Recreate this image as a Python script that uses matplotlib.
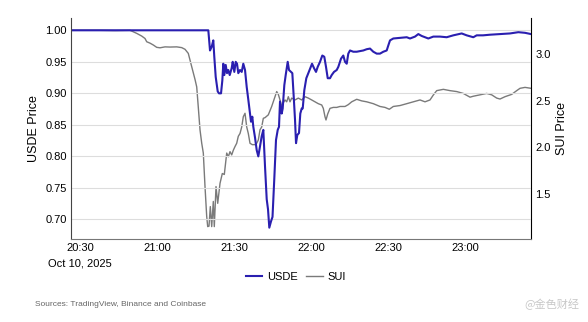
import pandas as pd
import matplotlib
matplotlib.use("Agg")
import matplotlib.pyplot as plt

plt.rcParams['font.family'] = ['Liberation Sans Narrow', 'Liberation Sans', 'DejaVu Sans']

# minutes after 20:30 on Oct 10, 2025
usde_min = [-3.51, 49.99, 50.65, 51.31, 51.93, 52.32, 52.87, 53.65, 54.16, 54.94,
            55.44, 55.83, 56.22, 56.77, 57.27, 57.78, 58.33, 59.10, 59.49, 60.12,
            60.66, 61.17, 61.67, 62.34, 63.00, 63.62, 64.29, 64.95, 65.57, 66.23,
            66.62, 67.13, 67.52, 68.18, 68.84, 69.47, 70.13, 70.79, 71.42, 72.08,
            72.74, 73.25, 73.75, 74.42, 75.00, 75.70, 76.36, 77.03, 77.53, 77.92,
            78.58, 78.97, 79.60, 80.14, 80.92, 81.43, 82.21, 82.72, 83.26, 83.77,
            84.16, 84.66, 85.32, 85.83, 86.38, 86.77, 87.39, 88.17, 88.95, 89.73,
            90.39, 91.17, 91.95, 92.61, 93.51, 94.40, 95.18, 95.84, 96.51, 97.40,
            98.06, 98.96, 100.01, 100.64, 101.69, 102.58, 103.25, 103.91, 104.53, 105.19,
            106.48, 107.81, 109.09, 110.38, 111.70, 112.99, 114.27, 115.60, 116.88, 118.17,
            119.49, 120.12, 120.78, 122.06, 124.68, 127.29, 128.57, 130.52, 131.81, 133.13,
            134.42, 135.70, 137.65, 140.26, 142.86, 145.44, 148.71, 150.65, 153.23, 154.55,
            157.01, 159.74, 163.64, 167.53, 170.77, 173.38, 175.71]
usde_price = [1.000, 1.000, 0.968, 0.974, 0.984, 0.958, 0.926, 0.903, 0.900, 0.900,
              0.920, 0.947, 0.929, 0.945, 0.932, 0.937, 0.929, 0.940, 0.950, 0.934,
              0.950, 0.947, 0.932, 0.937, 0.934, 0.947, 0.937, 0.910, 0.890, 0.868,
              0.855, 0.863, 0.847, 0.830, 0.810, 0.800, 0.816, 0.832, 0.842, 0.784,
              0.732, 0.716, 0.687, 0.697, 0.704, 0.765, 0.826, 0.842, 0.847, 0.887,
              0.868, 0.876, 0.913, 0.929, 0.950, 0.937, 0.934, 0.932, 0.895, 0.858,
              0.821, 0.834, 0.837, 0.868, 0.876, 0.876, 0.905, 0.924, 0.932, 0.940,
              0.947, 0.940, 0.934, 0.942, 0.950, 0.960, 0.958, 0.942, 0.924, 0.924,
              0.929, 0.934, 0.937, 0.942, 0.955, 0.960, 0.950, 0.947, 0.963, 0.968,
              0.966, 0.966, 0.967, 0.968, 0.970, 0.971, 0.966, 0.963, 0.963, 0.966,
              0.968, 0.976, 0.984, 0.987, 0.988, 0.989, 0.987, 0.990, 0.994, 0.991,
              0.989, 0.987, 0.990, 0.990, 0.989, 0.992, 0.995, 0.992, 0.989, 0.992,
              0.992, 0.993, 0.994, 0.995, 0.997, 0.996, 0.994]

sui_min = [-3.51, 7.79, 13.64, 19.48, 22.09, 24.04, 25.32, 25.99, 27.27, 28.56,
           29.88, 31.17, 33.12, 35.06, 37.68, 39.62, 40.91, 42.19, 43.52, 44.81,
           45.47, 46.09, 46.75, 47.42, 48.04, 48.70, 49.36, 49.75, 50.26, 50.77,
           51.31, 51.93, 52.32, 52.99, 53.65, 54.55, 55.44, 56.22, 57.16, 57.78,
           58.44, 59.10, 59.73, 60.39, 61.05, 61.67, 62.34, 63.00, 63.62, 64.29,
           64.95, 65.57, 66.23, 67.13, 68.18, 68.84, 69.47, 70.13, 70.79, 71.42,
           72.08, 73.36, 74.68, 75.97, 76.64, 77.26, 77.92, 78.58, 79.21, 79.87,
           80.53, 81.16, 81.82, 82.48, 83.77, 85.05, 86.38, 87.66, 88.95, 90.27,
           91.56, 92.84, 94.17, 94.79, 95.45, 95.84, 96.51, 97.40, 98.69, 100.01,
           101.30, 103.25, 104.53, 105.85, 107.81, 109.75, 111.70, 114.27, 116.88, 118.83,
           120.51, 122.06, 124.68, 127.29, 129.86, 132.47, 134.42, 136.36, 137.65, 138.97,
           141.56, 144.16, 146.77, 149.34, 151.95, 153.23, 155.84, 158.45, 160.40, 162.35,
           163.64, 165.58, 168.19, 170.14, 171.43, 173.38, 175.71]
sui_price = [3.258, 3.258, 3.255, 3.258, 3.225, 3.196, 3.170, 3.135, 3.120, 3.100,
             3.075, 3.070, 3.080, 3.078, 3.080, 3.072, 3.054, 3.010, 2.867, 2.730,
             2.650, 2.430, 2.190, 2.045, 1.940, 1.580, 1.260, 1.150, 1.155, 1.365,
             1.150, 1.420, 1.150, 1.580, 1.400, 1.615, 1.720, 1.710, 1.940, 1.900,
             1.955, 1.920, 1.970, 2.010, 2.045, 2.120, 2.150, 2.220, 2.330, 2.367,
             2.220, 2.150, 2.045, 2.030, 2.030, 2.045, 2.080, 2.190, 2.220, 2.313,
             2.320, 2.350, 2.440, 2.545, 2.600, 2.570, 2.510, 2.440, 2.480, 2.510,
             2.490, 2.545, 2.490, 2.530, 2.510, 2.530, 2.510, 2.545, 2.530, 2.510,
             2.490, 2.470, 2.456, 2.420, 2.330, 2.295, 2.360, 2.420, 2.430, 2.430,
             2.440, 2.440, 2.460, 2.490, 2.517, 2.500, 2.490, 2.470, 2.440, 2.430,
             2.410, 2.440, 2.450, 2.470, 2.490, 2.510, 2.490, 2.510, 2.563, 2.610,
             2.624, 2.610, 2.600, 2.580, 2.540, 2.550, 2.565, 2.580, 2.565, 2.530,
             2.520, 2.545, 2.570, 2.610, 2.635, 2.645, 2.635]

x_ticks = ["20:30", "21:00", "21:30", "22:00", "22:30", "23:00"]
x_tick_labels = ["20:30\nOct 10, 2025", "21:00", "21:30", "22:00", "22:30", "23:00"]
usde_ticks = [0.70, 0.75, 0.80, 0.85, 0.90, 0.95, 1.00]
sui_ticks = [1.5, 2.0, 2.5, 3.0]

base = pd.Timestamp("2025-10-10 20:30")
t_usde = base + pd.to_timedelta(usde_min, unit="m")
t_sui = base + pd.to_timedelta(sui_min, unit="m")
tick_pos = [pd.Timestamp("2025-10-10 " + s) for s in x_ticks]

fig = plt.figure(figsize=(5.88, 3.22), dpi=100)
ax = fig.add_axes([71/588, 1 - 239/322, 460/588, 221/322])
ax2 = ax.twinx()

l2, = ax2.plot(t_sui, sui_price, color="#7a7a7a", lw=1.0, label="SUI")
l1, = ax.plot(t_usde, usde_price, color="#2a1fb0", lw=1.5, label="USDE")
ax.set_zorder(ax2.get_zorder() + 1)
ax.patch.set_visible(False)

ax.set_xlim(t_usde[0], t_usde[-1])
ax.set_ylim(0.669, 1.0195)
ax2.set_ylim(1.017, 3.39)

ax.set_yticks(usde_ticks)
ax.set_yticklabels([f"{v:.2f}" for v in usde_ticks])
ax2.set_yticks(sui_ticks)
ax2.set_yticklabels([f"{v:.1f}" for v in sui_ticks])
ax.set_xticks(tick_pos)
ax.set_xticklabels(x_tick_labels)
for lbl in ax.get_xticklabels():
    lbl.set_linespacing(1.7)

ax.grid(axis="y", color="#dddddd", lw=0.8)
ax.tick_params(length=0, labelsize=8, pad=3)
ax2.tick_params(length=0, labelsize=8, pad=3)

for a in (ax, ax2):
    a.spines["top"].set_visible(False)
ax.spines["left"].set_color("#444444")
ax.spines["bottom"].set_color("#777777")
ax.spines["right"].set_visible(False)
ax2.spines["left"].set_visible(False)
ax2.spines["bottom"].set_visible(False)
ax2.spines["right"].set_color("black")

ax.set_ylabel("USDE Price", fontsize=9)
ax2.set_ylabel("SUI Price", fontsize=9)

fig.legend([l1, l2], ["USDE", "SUI"], loc="center", bbox_to_anchor=(0.503, 0.141),
           ncol=2, frameon=False, fontsize=8, handlelength=1.5,
           handletextpad=0.45, columnspacing=0.7)

fig.text(35/588, 1 - 304/322, "Sources: TradingView, Binance and Coinbase",
         fontsize=6, color="#666666", va="center")
fig.text(0.985, 1 - 304/322, "@金色财经", fontsize=8, color="#c8c8c8",
         ha="right", va="center", family=["Noto Sans CJK SC", "DejaVu Sans"])

fig.savefig("out.png", dpi=100)
